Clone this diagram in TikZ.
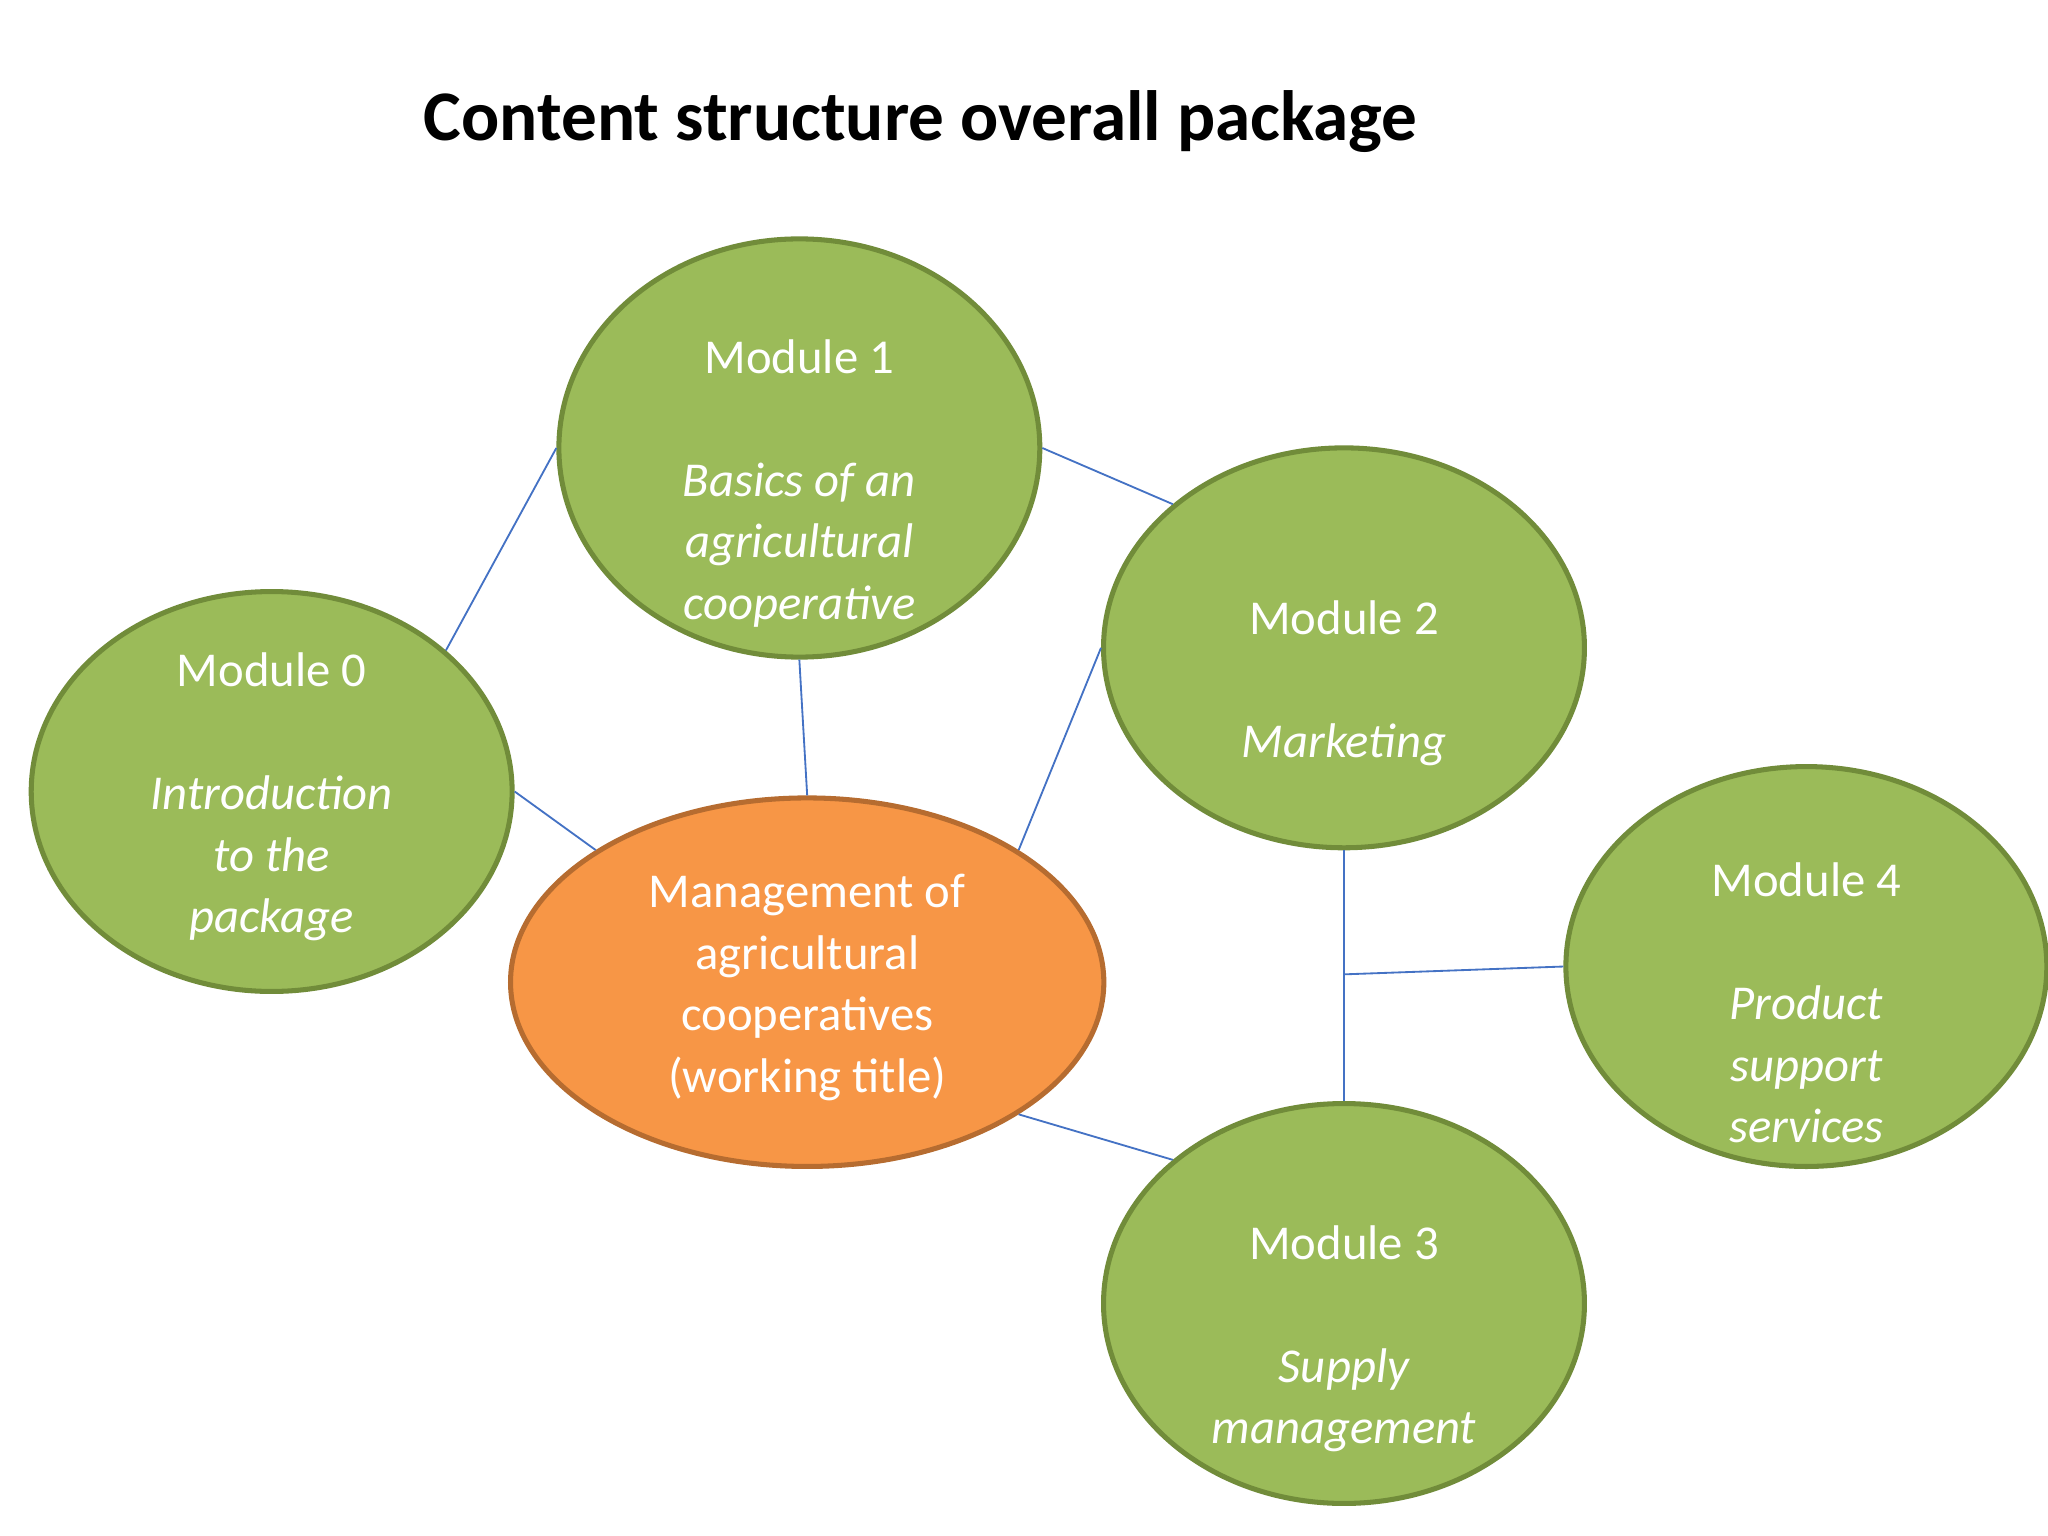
\documentclass[tikz,border=0pt]{standalone}
\usepackage{fontspec}
\setmainfont{Carlito}
\usetikzlibrary{shapes.geometric}
\definecolor{gfill}{RGB}{155,187,89}
\definecolor{gdraw}{RGB}{113,140,58}
\definecolor{ofill}{RGB}{247,150,70}
\definecolor{odraw}{RGB}{182,108,48}
\definecolor{lblue}{RGB}{68,114,196}
\begin{document}
\begin{tikzpicture}[x=0.01cm,y=-0.01cm,
  mod/.style={ellipse,draw=gdraw,fill=gfill,line width=1.1pt,inner sep=0pt,minimum width=3.68cm,minimum height=3.06cm},
  ctr/.style={ellipse,draw=odraw,fill=ofill,line width=1.1pt,inner sep=0pt,minimum width=4.54cm,minimum height=2.82cm},
  txt/.style={text=white,align=center,font=\fontsize{10.6}{13.4}\selectfont},
  link/.style={draw=lblue,line width=0.4pt}]
\useasboundingbox (0,0) rectangle (1568,1176);
\node[font=\bfseries\fontsize{15.5}{18}\selectfont] (title) at (705,93) {Content structure overall package};
\node[mod,minimum height=3.2cm] (m1) at (612,343) {};
\node[mod] (m0) at (208,606) {};
\node[mod] (m2) at (1029,496) {};
\node[ctr] (c) at (618,752) {};
\node[mod] (m4) at (1383,740) {};
\node[mod] (m3) at (1029,998) {};
\draw[link] (m0.39.5) -- (m1.180);
\draw[link] (m1.south) -- (c.north);
\draw[link] (m1.0) -- (m2.140);
\draw[link] (m0.east) -- (c.148);
\draw[link] (c.32) -- (m2.west);
\draw[link] (m2.south) -- (m3.north);
\coordinate (j) at (1029,746);
\draw[link] (j) -- (m4.west);
\draw[link] (c.-32) -- (m3.140);
\node[txt] (t1) at (612,370) {Module 1\\[13.4pt]\itshape Basics of an\\\itshape agricultural\\\itshape cooperative};
\node[txt] (t0) at (208,610) {Module 0\\[13.4pt]\itshape Introduction\\\itshape to the\\\itshape package};
\node[txt] (t2) at (1029,523) {Module 2\\[13.4pt]\itshape Marketing};
\node[txt] (tc) at (618,756) {Management of\\agricultural\\cooperatives\\(working title)};
\node[txt] (t4) at (1383,768) {Module 4\\[13.4pt]\itshape Product\\\itshape support\\\itshape services};
\node[txt] (t3) at (1029,1025) {Module 3\\[13.4pt]\itshape Supply\\\itshape management};
\end{tikzpicture}
\end{document}
